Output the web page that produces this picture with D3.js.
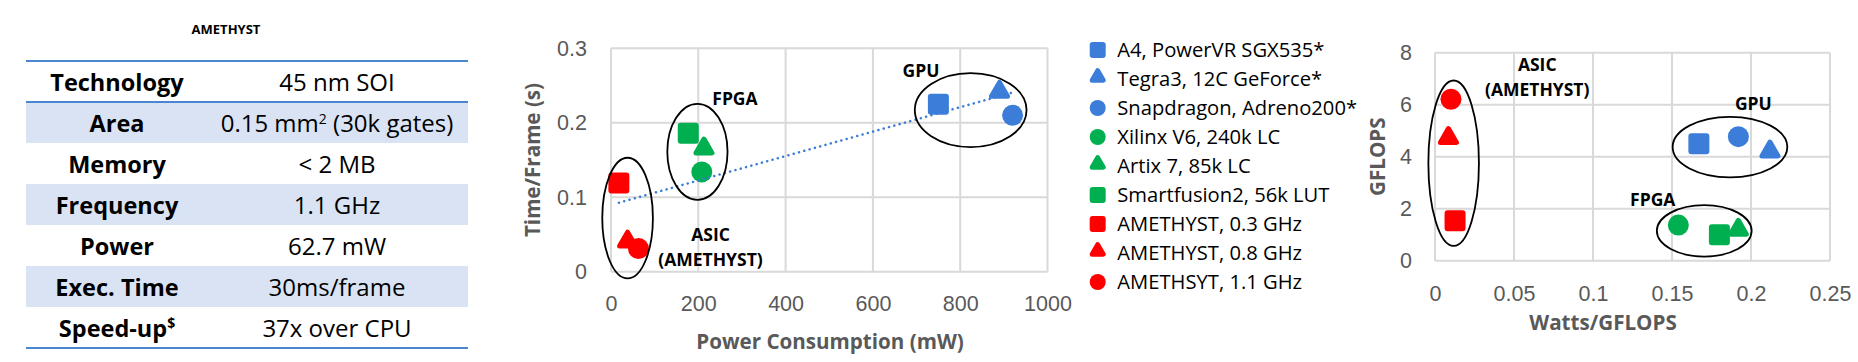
<!DOCTYPE html>
<html>
<head>
<meta charset="utf-8">
<script src="https://cdn.jsdelivr.net/npm/d3@7"></script>
<style>
  body { margin: 0; background: #fff; }
  svg { display: block; font-family: 'Open Sans', 'Noto Sans', sans-serif; }
</style>
</head>
<body>
<div id="figure"></div>
<script>
const width = 1858;
const height = 362;

// Table =================================================================
const tableTitle = 'AMETHYST';
const tableLabels = ['Technology', 'Area', 'Memory', 'Frequency', 'Power', 'Exec. Time', 'Speed-up'];
const tableLabelSup = ['', '', '', '', '', '', '$'];
const tableValues = ['45 nm SOI', '0.15 mm', '< 2 MB', '1.1 GHz', '62.7 mW', '30ms/frame', '37x over CPU'];
const tableValueSup = ['', '2', '', '', '', '', ''];
const tableValueTail = ['', ' (30k gates)', '', '', '', '', ''];

// Scatter data ==========================================================
const devices = [
	'A4, PowerVR SGX535*',
	'Tegra3, 12C GeForce*',
	'Snapdragon, Adreno200*',
	'Xilinx V6, 240k LC',
	'Artix 7, 85k LC',
	'Smartfusion2, 56k LUT',
	'AMETHYST, 0.3 GHz',
	'AMETHYST, 0.8 GHz',
	'AMETHSYT, 1.1 GHz',
];
const shapes = ['square', 'triangle', 'circle', 'circle', 'triangle', 'square', 'square', 'triangle', 'circle'];
const groups = ['GPU', 'GPU', 'GPU', 'FPGA', 'FPGA', 'FPGA', 'ASIC', 'ASIC', 'ASIC'];

const powerMw = [750, 890, 920, 208, 213, 177, 18, 38, 63];
const timePerFrame = [0.225, 0.239, 0.21, 0.134, 0.163, 0.186, 0.119, 0.038, 0.031];

const wattsPerGflops = [0.167, 0.212, 0.192, 0.154, 0.192, 0.18, 0.0127, 0.0085, 0.0101];
const gflops = [4.5, 4.13, 4.77, 1.37, 1.12, 1.0, 1.54, 4.65, 6.21];

const xTicks1 = [0, 200, 400, 600, 800, 1000];
const yTicks1 = [0, 0.1, 0.2, 0.3];
const xTicks2 = [0, 0.05, 0.1, 0.15, 0.2, 0.25];
const yTicks2 = [0, 2, 4, 6, 8];

// group ellipses (ASIC, FPGA, GPU), in data units: [cx, cy, rx, ry]
const ellipses1 = [[38, 0.072, 58, 0.081], [198, 0.161, 69, 0.0645], [824, 0.217, 128, 0.0497]];
const ellipses2 = [[0.0118, 3.75, 0.016, 3.18], [0.1704, 1.15, 0.03, 0.99], [0.1867, 4.37, 0.0363, 1.165]];
const groupLabels = [['ASIC', '(AMETHYST)'], ['FPGA'], ['GPU']];
// label anchor points, in data units
const labelPos1 = [[228, 0.049], [284, 0.232], [710, 0.27]];
const labelPos2 = [[0.0647, 7.53], [0.1378, 2.33], [0.2015, 6.03]];

const groupColor = { GPU: '#3b7dd8', FPGA: '#00b050', ASIC: '#ff0000' };
const gridColor = '#d9d9d9';
const textGray = '#595959';

const svg = d3.select('#figure').append('svg').attr('width', width).attr('height', height);
svg.append('rect').attr('width', width).attr('height', height).attr('fill', '#fff');

// TABLE =================================================================
const table = svg.append('g');
const rowTop = 61;
const rowH = 41;
const tableLeft = 26;
const tableRight = 468;

table.append('text')
	.attr('x', 226)
	.attr('y', 29)
	.attr('dy', '0.35em')
	.attr('text-anchor', 'middle')
	.style('font-size', '13px')
	.style('font-weight', 'bold')
	.text(tableTitle);

tableLabels.forEach((label, i) => {
	const y = rowTop + i * rowH;
	if (i % 2 === 1) {
		table.append('rect')
			.attr('x', tableLeft)
			.attr('y', y)
			.attr('width', tableRight - tableLeft)
			.attr('height', rowH)
			.attr('fill', '#dae3f3');
	}
	const t1 = table.append('text')
		.attr('x', 117)
		.attr('y', y + rowH / 2 + 1)
		.attr('dy', '0.35em')
		.attr('text-anchor', 'middle')
		.style('font-size', '23.5px')
		.style('font-weight', 'bold')
		.text(label);
	if (tableLabelSup[i]) {
		t1.append('tspan').attr('dy', '-0.6em').style('font-size', '14px').text(tableLabelSup[i]);
	}
	const t2 = table.append('text')
		.attr('x', 337)
		.attr('y', y + rowH / 2 + 1)
		.attr('dy', '0.35em')
		.attr('text-anchor', 'middle')
		.style('font-size', '24px')
		.text(tableValues[i]);
	if (tableValueSup[i]) {
		t2.append('tspan').attr('dy', '-0.55em').style('font-size', '14px').text(tableValueSup[i]);
		t2.append('tspan').attr('dy', '0.33em').text(tableValueTail[i]);
	}
});

[rowTop, rowTop + rowH, rowTop + rowH * tableLabels.length].forEach((y) => {
	table.append('line')
		.attr('x1', tableLeft)
		.attr('x2', tableRight)
		.attr('y1', y)
		.attr('y2', y)
		.attr('stroke', '#4a87d0')
		.attr('stroke-width', 2);
});

// MARKERS ===============================================================
function markerPath(shape, s) {
	// s = nominal outer size in px
	if (shape === 'square') return d3.symbol(d3.symbolSquare, (s - 6) * (s - 6))();
	if (shape === 'circle') return d3.symbol(d3.symbolCircle, Math.PI * (s / 2) * (s / 2))();
	const side = s - 5;
	return d3.symbol(d3.symbolTriangle, (side * side * Math.sqrt(3)) / 4)();
}

function drawMarker(g, shape, color, x, y, s) {
	const dy = shape === 'triangle' ? -2 : 0;
	g.append('path')
		.attr('d', markerPath(shape, s))
		.attr('transform', `translate(${x},${y + dy})`)
		.attr('fill', color)
		.attr('stroke', shape === 'circle' ? 'none' : color)
		.attr('stroke-width', shape === 'square' ? 6 : 5)
		.attr('stroke-linejoin', 'round');
}

// SCATTER ===============================================================
function scatter(opts) {
	const g = svg.append('g');
	const x = d3.scaleLinear().domain(opts.xDomain).range(opts.xRange);
	const y = d3.scaleLinear().domain(opts.yDomain).range(opts.yRange);

	// grid
	g.append('g')
		.selectAll('line')
		.data(opts.xTicks)
		.join('line')
		.attr('x1', (d) => x(d))
		.attr('x2', (d) => x(d))
		.attr('y1', opts.yRange[0])
		.attr('y2', opts.yRange[1])
		.attr('stroke', gridColor)
		.attr('stroke-width', 2);
	g.append('g')
		.selectAll('line')
		.data(opts.yTicks)
		.join('line')
		.attr('x1', opts.xRange[0])
		.attr('x2', opts.xRange[1])
		.attr('y1', (d) => y(d))
		.attr('y2', (d) => y(d))
		.attr('stroke', gridColor)
		.attr('stroke-width', 2);

	// axes (labels only)
	const xAxis = g.append('g')
		.attr('transform', `translate(0,${opts.yRange[0]})`)
		.call(d3.axisBottom(x).tickValues(opts.xTicks).tickFormat(opts.xFormat).tickSize(0).tickPadding(0));
	xAxis.select('.domain').remove();
	xAxis.selectAll('text')
		.attr('y', opts.xLabelOffset)
		.attr('dy', '0.35em')
		.attr('fill', textGray)
		.style('font-size', '21.5px')
		.style('font-family', 'inherit');

	const yAxis = g.append('g')
		.attr('transform', `translate(${opts.xRange[0]},0)`)
		.call(d3.axisLeft(y).tickValues(opts.yTicks).tickFormat(opts.yFormat).tickSize(0).tickPadding(opts.yLabelPad));
	yAxis.select('.domain').remove();
	yAxis.selectAll('text')
		.attr('fill', textGray)
		.style('font-size', '21.5px')
		.style('font-family', 'inherit');

	// axis titles
	g.append('text')
		.attr('x', opts.xTitleX)
		.attr('y', opts.xTitleY)
		.attr('dy', '0.35em')
		.attr('text-anchor', 'middle')
		.attr('fill', textGray)
		.style('font-size', '20.6px')
		.style('font-weight', 'bold')
		.text(opts.xTitle);
	g.append('text')
		.attr('transform', `translate(${opts.yTitleX},${(opts.yRange[0] + opts.yRange[1]) / 2}) rotate(-90)`)
		.attr('dy', '0.35em')
		.attr('text-anchor', 'middle')
		.attr('fill', textGray)
		.style('font-size', '20.6px')
		.style('font-weight', 'bold')
		.text(opts.yTitle);

	// points
	const pts = g.append('g');
	devices.forEach((d, i) => {
		drawMarker(pts, shapes[i], groupColor[groups[i]], x(opts.xs[i]), y(opts.ys[i]), 21);
	});

	// linear trendline
	if (opts.trend) {
		const mx = d3.mean(opts.xs);
		const my = d3.mean(opts.ys);
		const slope =
			d3.sum(opts.xs, (v, i) => (v - mx) * (opts.ys[i] - my)) / d3.sum(opts.xs, (v) => (v - mx) * (v - mx));
		const icpt = my - slope * mx;
		const [x0, x1] = d3.extent(opts.xs);
		g.append('line')
			.attr('x1', x(x0))
			.attr('y1', y(icpt + slope * x0))
			.attr('x2', x(x1))
			.attr('y2', y(icpt + slope * x1))
			.attr('stroke', groupColor.GPU)
			.attr('stroke-width', 2.5)
			.attr('stroke-linecap', 'round')
			.attr('stroke-dasharray', '0.1 5.4');
	}

	// group ellipses and labels
	opts.ellipses.forEach((e) => {
		g.append('ellipse')
			.attr('cx', x(e[0]))
			.attr('cy', y(e[1]))
			.attr('rx', Math.abs(x(e[2]) - x(0)))
			.attr('ry', Math.abs(y(e[3]) - y(0)))
			.attr('fill', 'none')
			.attr('stroke', '#000')
			.attr('stroke-width', 1.8);
	});
	groupLabels.forEach((lines, k) => {
		const t = g.append('text')
			.attr('x', x(opts.labelPos[k][0]))
			.attr('y', y(opts.labelPos[k][1]))
			.attr('text-anchor', 'middle')
			.style('font-size', '17.5px')
			.style('font-weight', 'bold');
		lines.forEach((line, j) => {
			t.append('tspan')
				.attr('x', x(opts.labelPos[k][0]))
				.attr('dy', j === 0 ? '0.35em' : '1.42em')
				.text(line);
		});
	});
}

scatter({
	xDomain: [0, 1000],
	yDomain: [0, 0.3],
	xRange: [611, 1047.5],
	yRange: [271.7, 48.3],
	xTicks: xTicks1,
	yTicks: yTicks1,
	xFormat: d3.format('d'),
	yFormat: (d) => (d === 0 ? '0' : d3.format('.1f')(d)),
	xLabelOffset: 32,
	yLabelPad: 24,
	xTitle: 'Power Consumption (mW)',
	xTitleX: 830,
	xTitleY: 342,
	yTitle: 'Time/Frame (s)',
	yTitleX: 533,
	xs: powerMw,
	ys: timePerFrame,
	trend: true,
	ellipses: ellipses1,
	labelPos: labelPos1,
});

scatter({
	xDomain: [0, 0.25],
	yDomain: [0, 8],
	xRange: [1435, 1830],
	yRange: [260.7, 52.7],
	xTicks: xTicks2,
	yTicks: yTicks2,
	xFormat: (d) => (d === 0 ? '0' : String(+d.toFixed(2))),
	yFormat: d3.format('d'),
	xLabelOffset: 32.6,
	yLabelPad: 23,
	xTitle: 'Watts/GFLOPS',
	xTitleX: 1603,
	xTitleY: 322.7,
	yTitle: 'GFLOPS',
	yTitleX: 1378,
	xs: wattsPerGflops,
	ys: gflops,
	trend: false,
	ellipses: ellipses2,
	labelPos: labelPos2,
});

// LEGEND ================================================================
const legend = svg.append('g');
devices.forEach((d, i) => {
	const y = 50 + i * 29;
	drawMarker(legend, shapes[i], groupColor[groups[i]], 1097.7, y, 16);
	legend.append('text')
		.attr('x', 1117.3)
		.attr('y', y)
		.attr('dy', '0.35em')
		.attr('fill', '#000')
		.style('font-size', '20.2px')
		.text(d);
});
</script>
</body>
</html>
